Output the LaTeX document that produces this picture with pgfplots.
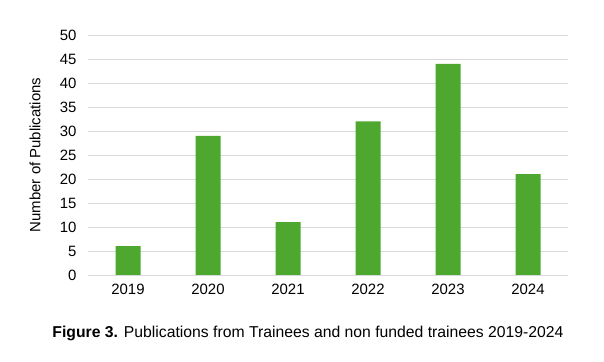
\documentclass[border=0pt]{standalone}
\usepackage{pgfplots}
\pgfplotsset{compat=1.18}
\usepackage{fontspec}
\setmainfont{Liberation Sans}
\definecolor{bargreen}{HTML}{4EA72E}
\definecolor{gridgray}{HTML}{D9D9D9}
\begin{document}
\begin{tikzpicture}
\useasboundingbox (0,0) rectangle (604bp,362bp);
\begin{axis}[
  at={(88bp,87bp)}, anchor=south west,
  scale only axis, width=480bp, height=240bp,
  xmin=-0.5, xmax=5.5, ymin=0, ymax=50,
  xtick={0,1,2,3,4,5},
  xticklabels={2019,2020,2021,2022,2023,2024},
  ytick={0,5,...,50},
  axis line style={draw=none},
  major tick length=0pt,
  ymajorgrids, grid style={gridgray, line width=0.9bp},
  tick label style={font=\fontsize{15}{18}\selectfont},
  /pgf/number format/assume math mode=true,
  yticklabel style={xshift=-8bp},
  xticklabel style={yshift=-6bp},
  clip=false,
]
\addplot[ybar, bar width=25bp, fill=bargreen, draw=none] coordinates {
  (0,6) (1,29) (2,11) (3,32) (4,44) (5,21)
};
\end{axis}
\node[rotate=90, anchor=center, font=\fontsize{15}{18}\selectfont] at (35bp,207bp) {Number of Publications};
\node[anchor=center, font=\fontsize{15.8}{19}\selectfont] at (308bp,29bp)
  {\textbf{Figure 3.} Publications from Trainees and non funded trainees 2019-2024};
\end{tikzpicture}
\end{document}
